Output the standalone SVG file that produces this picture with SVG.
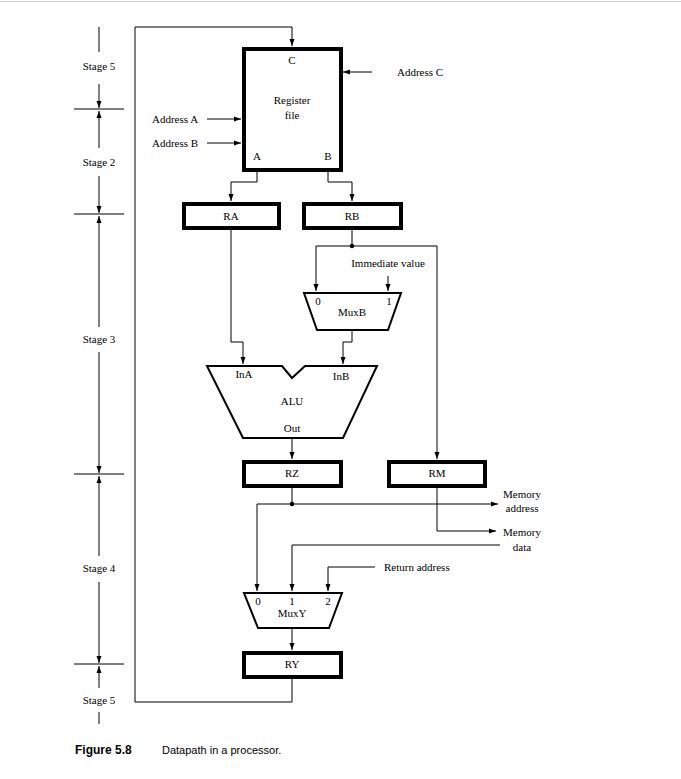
<svg xmlns="http://www.w3.org/2000/svg" width="681" height="779" viewBox="0 0 681 779">
<defs><marker id="a" markerWidth="8" markerHeight="8" refX="7" refY="4" orient="auto" markerUnits="userSpaceOnUse"><path d="M0,1.5 L7,4 L0,6.5z" fill="#000"/></marker></defs>
<style>
text{font-family:"Liberation Serif",serif;font-size:11px;fill:#000}
.b{fill:#fff;stroke:#000;stroke-width:4}
.m{fill:#fff;stroke:#000;stroke-width:2}
.c{fill:none;stroke:#000;stroke-width:1}
.ar{marker-end:url(#a)}
</style>
<rect width="681" height="779" fill="#fff"/>
<line x1="0" y1="1.5" x2="681" y2="1.5" stroke="#ccc"/>
<g id="stages" class="c" stroke="#000">
<line x1="74" y1="109" x2="124" y2="109"/><line x1="74" y1="214" x2="124" y2="214"/>
<line x1="74" y1="474" x2="124" y2="474"/><line x1="74" y1="664" x2="124" y2="664"/>
<line x1="99" y1="27" x2="99" y2="52"/><line x1="99" y1="84" x2="99" y2="108" class="c ar"/>
<line x1="99" y1="148" x2="99" y2="111" class="c ar"/><line x1="99" y1="176" x2="99" y2="213" class="c ar"/>
<line x1="99" y1="327" x2="99" y2="216" class="c ar"/><line x1="99" y1="352" x2="99" y2="473" class="c ar"/>
<line x1="99" y1="556" x2="99" y2="476" class="c ar"/><line x1="99" y1="582" x2="99" y2="663" class="c ar"/>
<line x1="99" y1="688" x2="99" y2="666" class="c ar"/><line x1="99" y1="712" x2="99" y2="724"/>
</g>
<g id="stagelabels" text-anchor="middle">
<text x="99" y="70">Stage 5</text><text x="99" y="166">Stage 2</text><text x="99" y="343">Stage 3</text>
<text x="99" y="572">Stage 4</text><text x="99" y="704">Stage 5</text>
</g>
<g id="regfile"><rect class="b" x="244" y="49" width="97" height="121"/>
<text x="292" y="64" text-anchor="middle">C</text><text x="292" y="104" text-anchor="middle">Register</text><text x="292" y="119" text-anchor="middle">file</text>
<text x="257" y="160" text-anchor="middle">A</text><text x="328" y="160" text-anchor="middle">B</text></g>
<g id="RA"><rect class="b" x="184" y="204" width="95" height="24"/><text x="231" y="220" text-anchor="middle">RA</text></g>
<g id="RB"><rect class="b" x="304" y="204" width="97" height="24"/><text x="352" y="220" text-anchor="middle">RB</text></g>
<g id="MuxB"><path class="m" d="M304,293 H401 L388,330 H317z"/><text x="318" y="305" text-anchor="middle">0</text><text x="389" y="305" text-anchor="middle">1</text><text x="352" y="316" text-anchor="middle">MuxB</text></g>
<g id="ALU"><path class="m" d="M207,366 H282 L292,378 L305,366 H377 L343,438 H243z"/><text x="244" y="378" text-anchor="middle">InA</text><text x="341" y="380" text-anchor="middle">InB</text><text x="292" y="405" text-anchor="middle">ALU</text><text x="292" y="432" text-anchor="middle">Out</text></g>
<g id="RZ"><rect class="b" x="244" y="462" width="97" height="24"/><text x="292" y="477" text-anchor="middle">RZ</text></g>
<g id="RM"><rect class="b" x="389" y="462" width="96" height="24"/><text x="437" y="477" text-anchor="middle">RM</text></g>
<g id="MuxY"><path class="m" d="M244,593 H342 L329,628 H258z"/><text x="258" y="605" text-anchor="middle">0</text><text x="292" y="605" text-anchor="middle">1</text><text x="328" y="605" text-anchor="middle">2</text><text x="292" y="617" text-anchor="middle">MuxY</text></g>
<g id="RY"><rect class="b" x="244" y="653" width="97" height="24"/><text x="292" y="668" text-anchor="middle">RY</text></g>
<g id="labels">
<text x="397" y="76">Address C</text><text x="152" y="123">Address A</text><text x="152" y="147">Address B</text>
<text x="388" y="267" text-anchor="middle">Immediate value</text>
<text x="522" y="498" text-anchor="middle">Memory</text><text x="522" y="512" text-anchor="middle">address</text>
<text x="522" y="536" text-anchor="middle">Memory</text><text x="522" y="551" text-anchor="middle">data</text>
<text x="384" y="571">Return address</text>
</g>
<g id="connectors" class="c">
<path class="ar" d="M292,679 V702 H135 V27 H292 V46"/>
<path class="ar" d="M372,72 H343"/><path class="ar" d="M207,119 H241"/><path class="ar" d="M207,143 H241"/>
<path class="ar" d="M257,172 V182 H231 V201"/><path class="ar" d="M328,172 V182 H352 V201"/>
<path class="ar" d="M231,230 V342 H243 V364"/>
<path d="M352,230 V246"/><path class="ar" d="M316,246 H437 V459"/><path class="ar" d="M316,246 V291"/>
<path class="ar" d="M388,276 V291"/>
<path class="ar" d="M352,331 V342 H343 V364"/>
<path class="ar" d="M292,439 V459"/>
<path class="ar" d="M292,488 V504 H498"/><path class="ar" d="M292,504 H257 V591"/>
<path class="ar" d="M437,488 V531 H496"/>
<path class="ar" d="M500,545 H292 V591"/><path class="ar" d="M375,567 H328 V591"/>
<path class="ar" d="M292,629 V650"/>
</g>
<circle cx="352" cy="246" r="2.2"/><circle cx="292" cy="504" r="2.2"/>
<g id="caption"><text x="75" y="754" style="font-family:'Liberation Sans',sans-serif;font-weight:bold;font-size:12px">Figure 5.8</text>
<text x="162" y="754" style="font-family:'Liberation Sans',sans-serif;font-size:11px">Datapath in a processor.</text></g>
</svg>
